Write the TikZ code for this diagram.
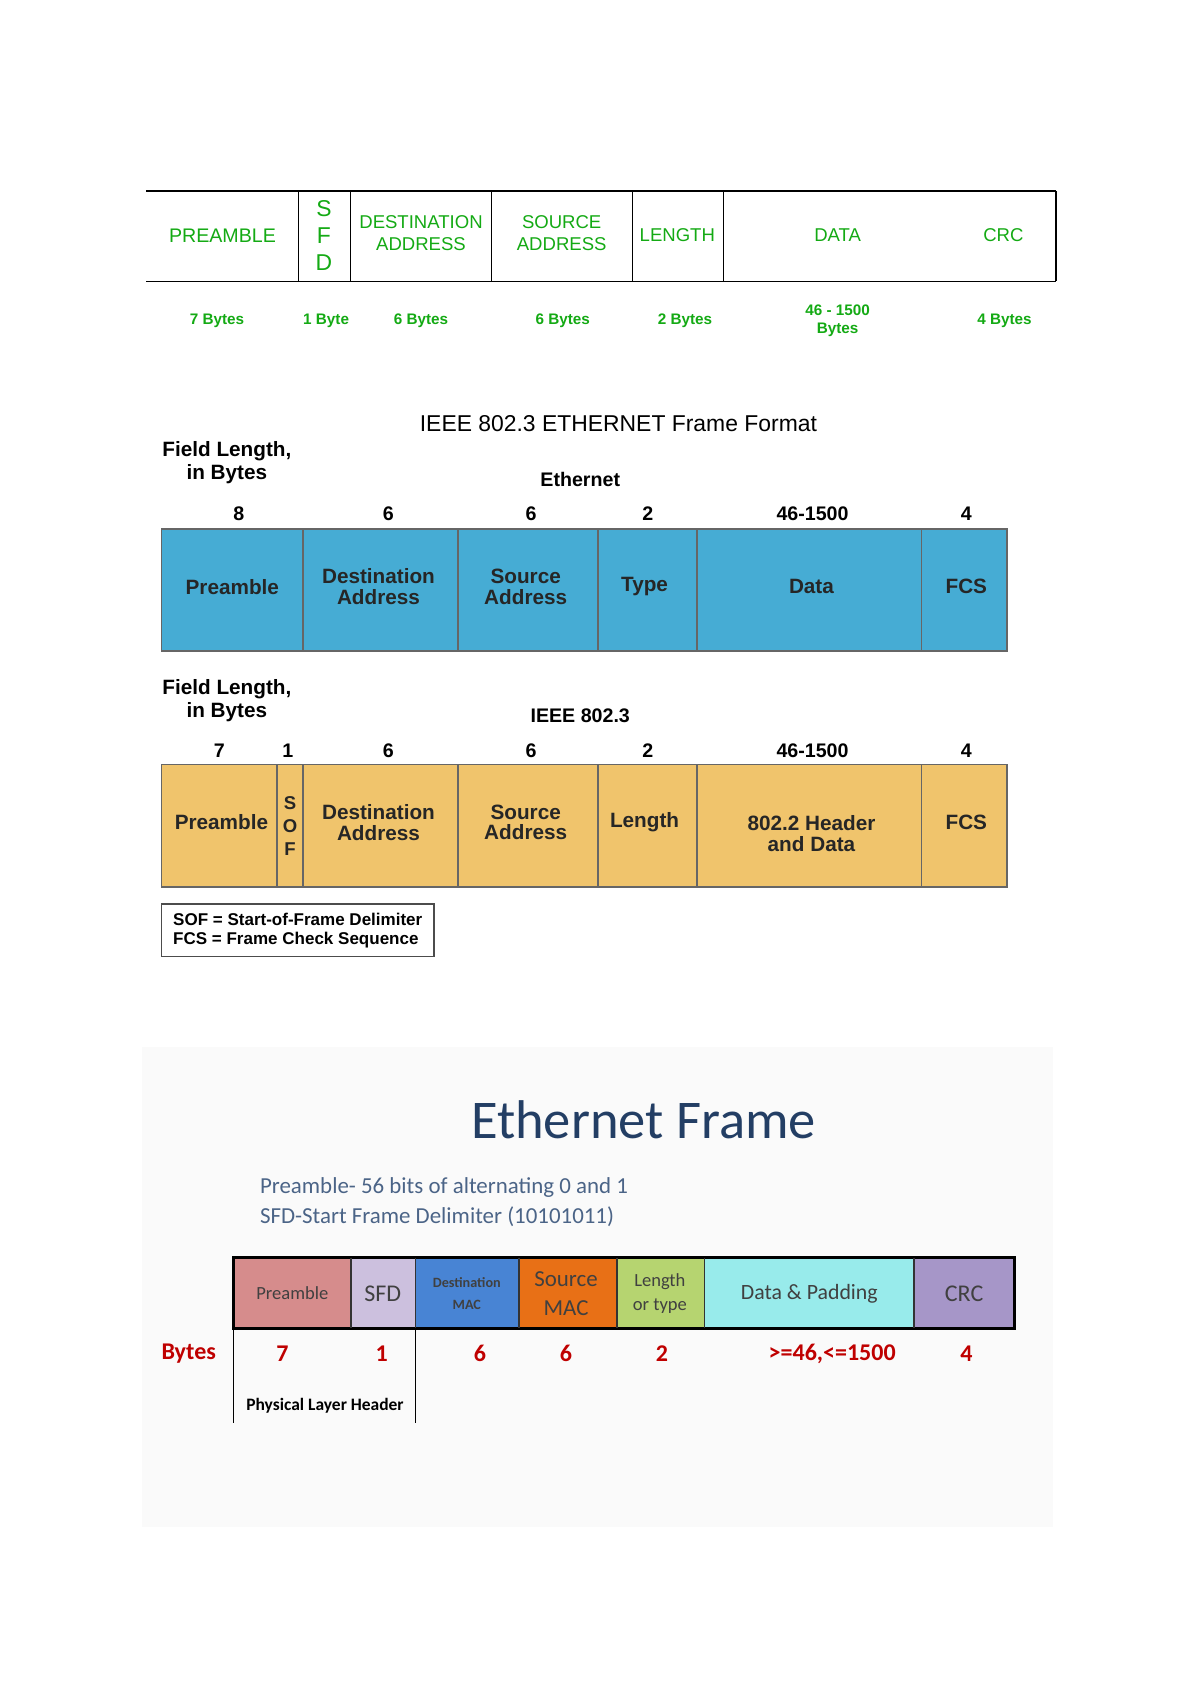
\documentclass[tikz,border=0pt]{standalone}
\usepackage{fontspec}
\setmainfont{Liberation Sans}
\newfontfamily\carl{Carlito}
\definecolor{grn}{RGB}{20,170,20}
\definecolor{blu}{RGB}{70,172,212}
\definecolor{org}{RGB}{240,196,108}
\definecolor{ttl}{RGB}{35,62,100}
\definecolor{dsc}{RGB}{75,100,135}
\definecolor{cpre}{RGB}{214,140,140}
\definecolor{csfd}{RGB}{204,192,222}
\definecolor{cdst}{RGB}{72,132,212}
\definecolor{csrc}{RGB}{232,112,22}
\definecolor{clen}{RGB}{182,212,112}
\definecolor{cdat}{RGB}{152,235,235}
\definecolor{ccrc}{RGB}{166,150,200}
\begin{document}
\begin{tikzpicture}[x=0.5pt,y=-0.5pt,
  gt/.style={text=grn,font=\fontsize{9}{10}\selectfont,align=center,inner sep=0},
  gb/.style={text=grn,font=\fontsize{7}{8}\selectfont\bfseries,align=center,inner sep=0},
  bl/.style={font=\fontsize{9.5}{9.5}\selectfont\bfseries,align=center,inner sep=0,text=black!85},
  nm/.style={font=\fontsize{9}{10}\selectfont\bfseries,inner sep=0},
  cl/.style={font=\carl\fontsize{10}{10}\selectfont,align=center,inner sep=0,text=black!75},
  rd/.style={font=\carl\bfseries\fontsize{11}{11}\selectfont,text=red!75!black,inner sep=0}]
\useasboundingbox (0,0) rectangle (1100,1555);
\fill[white] (0,0) rectangle (1100,1555);
\fill[black!2] (130,960) rectangle (965,1400);
% top table
\draw[thick] (134,175) -- (968,175) (134,258) -- (968,258) (968,175) -- (968,258);
\foreach \x in {274,321,451,580,663} \draw (\x,175) -- (\x,258);
\node[gt] (t1) at (204,216) {PREAMBLE};
\node[gt,font=\fontsize{10.5}{12.5}\selectfont] (t2) at (297,216) {S\\F\\D};
\node[gt,font=\fontsize{8.5}{10}\selectfont] (t3) at (386,214) {DESTINATION\\ADDRESS};
\node[gt,font=\fontsize{8.5}{10}\selectfont] (t4) at (515,214) {SOURCE\\ADDRESS};
\node[gt,font=\fontsize{8.5}{10}\selectfont] (t5) at (621,216) {LENGTH};
\node[gt,font=\fontsize{8.5}{10}\selectfont] (t6) at (768,216) {DATA};
\node[gt,font=\fontsize{8.5}{10}\selectfont] (t7) at (920,216) {CRC};
\node[gb] (b1) at (199,294) {7 Bytes};
\node[gb] (b2) at (299,294) {1 Byte};
\node[gb] (b3) at (386,294) {6 Bytes};
\node[gb] (b4) at (516,294) {6 Bytes};
\node[gb] (b5) at (628,294) {2 Bytes};
\node[gb] (b6) at (768,294) {46 - 1500\\Bytes};
\node[gb] (b7) at (921,294) {4 Bytes};
% section 2
\node[inner sep=0,font=\fontsize{10.5}{12}\selectfont] (ti) at (567,388) {IEEE 802.3 ETHERNET Frame Format};
\node[nm,align=center,font=\fontsize{9.5}{10.5}\selectfont\bfseries] (fl1) at (208,424) {Field Length,\\in Bytes};
\node[nm] (eth) at (532,440) {Ethernet};
\foreach \x/\t in {219/8,356/6,487/6,594/2,745/46-1500,886/4} \node[nm] at (\x,471) {\t};
\draw[fill=blu,draw=black!60,thick] (148,485) rectangle (923,597);
\foreach \x in {278,420,548,639,845} \draw[black!60,thick] (\x,485) -- (\x,597);
\node[bl] (e1) at (213,538) {Preamble};
\node[bl] (e2) at (347,538) {Destination\\Address};
\node[bl] (e3) at (482,538) {Source\\Address};
\node[bl] (e4) at (591,538) {Type};
\node[bl] (e5) at (744,538) {Data};
\node[bl] (e6) at (886,538) {FCS};
\node[nm,align=center,font=\fontsize{9.5}{10.5}\selectfont\bfseries] (fl2) at (208,642) {Field Length,\\in Bytes};
\node[nm] (ieee) at (532,656) {IEEE 802.3};
\foreach \x/\t in {201/7,264/1,356/6,487/6,594/2,745/46-1500,886/4} \node[nm] at (\x,688) {\t};
\draw[fill=org,draw=black!60,thick] (148,701) rectangle (923,813);
\foreach \x in {254,278,420,548,639,845} \draw[black!60,thick] (\x,701) -- (\x,813);
\node[bl] (i1) at (203,754) {Preamble};
\node[bl,font=\fontsize{8.5}{10.5}\selectfont\bfseries] (i2) at (266,757) {S\\O\\F};
\node[bl] (i3) at (347,754) {Destination\\Address};
\node[bl] (i4) at (482,754) {Source\\Address};
\node[bl] (i5) at (591,754) {Length};
\node[bl] (i6) at (744,764) {802.2 Header\\and Data};
\node[bl] (i7) at (886,754) {FCS};
\node[draw=black!70,thick,minimum width=125pt,minimum height=24pt,align=left,inner sep=2pt,font=\fontsize{7.8}{8.8}\selectfont\bfseries] (leg) at (273,853) {SOF = Start-of-Frame Delimiter\\FCS = Frame Check Sequence};
% section 3
\node[font=\carl\fontsize{25}{25}\selectfont,text=ttl,inner sep=0] (ef) at (590,1027) {Ethernet Frame};
\node[font=\carl\fontsize{10.5}{14}\selectfont,text=dsc,align=left,anchor=west,inner sep=0] (desc) at (238,1102) {Preamble- 56 bits of alternating 0 and 1\\SFD-Start Frame Delimiter (10101011)};
\fill[cpre] (214,1153) rectangle (322,1218);
\fill[csfd] (322,1153) rectangle (381,1218);
\fill[cdst] (381,1153) rectangle (476,1218);
\fill[csrc] (476,1153) rectangle (566,1218);
\fill[clen] (566,1153) rectangle (646,1218);
\fill[cdat] (646,1153) rectangle (838,1218);
\fill[ccrc] (838,1153) rectangle (930,1218);
\draw[very thick] (214,1153) rectangle (930,1218);
\foreach \x in {322,381,476,566,646,838} \draw[thick,black!80] (\x,1153) -- (\x,1218);
\node[cl,font=\carl\fontsize{8.5}{10}\selectfont] (c1) at (268,1186) {Preamble};
\node[cl,font=\carl\fontsize{11}{11}\selectfont] (c2) at (351,1186) {SFD};
\node[cl,font=\carl\bfseries\fontsize{6.5}{10}\selectfont] (c3) at (428,1186) {Destination\\MAC};
\node[cl,font=\carl\fontsize{10.5}{13.5}\selectfont] (c4) at (519,1186) {Source\\MAC};
\node[cl,font=\carl\fontsize{8.5}{11}\selectfont] (c5) at (605,1186) {Length\\or type};
\node[cl] (c6) at (742,1186) {Data \& Padding};
\node[cl,font=\carl\fontsize{11}{11}\selectfont] (c7) at (884,1186) {CRC};
\node[rd] (by) at (173,1241) {Bytes};
\foreach \x/\t in {259/7,350/1,440/6,519/6,607/2,763/{>=46,<=1500},886/4} \node[rd] at (\x,1241) {\t};
\draw[thick] (214,1218) -- (214,1305) (381,1218) -- (381,1305);
\node[font=\carl\bfseries\fontsize{8}{8}\selectfont,inner sep=0] (plh) at (298,1289) {Physical Layer Header};
\end{tikzpicture}
\end{document}
